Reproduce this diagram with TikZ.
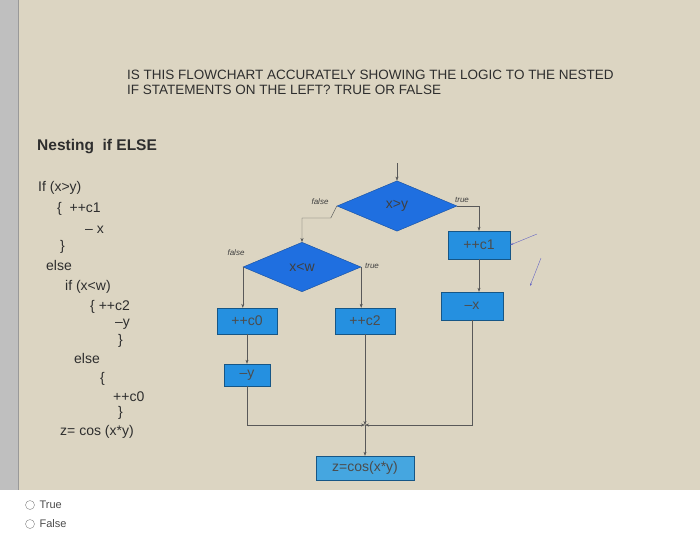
\documentclass[tikz,border=0pt]{standalone}
\usepackage{fontspec}
\setmainfont{Liberation Sans}
\usetikzlibrary{shapes.geometric,arrows.meta}
\definecolor{bgc}{HTML}{DCD5C2}
\definecolor{dblue}{HTML}{1F6FE0}
\definecolor{bblue}{HTML}{2590E0}
\definecolor{lblue}{HTML}{45A6E0}
\definecolor{txt}{HTML}{2E2E2E}
\begin{document}
\begin{tikzpicture}[x=1pt,y=-1pt,
  dia/.style={diamond,aspect=2.4,fill=dblue,draw=dblue!70!black,inner sep=0pt,minimum width=#1,minimum height=0.42*#1,text=black!75,font=\fontsize{14}{16}\selectfont},
  box/.style={rectangle,fill=bblue,draw=bblue!60!black,minimum width=#1,minimum height=26,inner sep=0pt,text=black!70,font=\fontsize{14}{16}\selectfont},
  lab/.style={font=\fontsize{8}{9}\selectfont\itshape,text=black!75},
  code/.style={anchor=west,font=\fontsize{14}{16}\selectfont,text=txt,inner sep=0pt},
  con/.style={draw=black!65,-{Stealth[length=4pt]}},
  ln/.style={draw=black!65}]
\useasboundingbox (0,0) rectangle (700,547);
\fill[white] (0,0) rectangle (700,547);
\fill[bgc] (0,0) rectangle (700,490);
\fill[black!25] (0,0) rectangle (18,490);
\draw[black!40] (18,0) -- (18,490);
% title
\node[code,font=\fontsize{13.5}{15}\selectfont] (t1) at (127,75) {IS THIS FLOWCHART ACCURATELY SHOWING THE LOGIC TO THE NESTED};
\node[code,font=\fontsize{13.5}{15}\selectfont] (t2) at (127,90) {IF STATEMENTS ON THE LEFT? TRUE OR FALSE};
\node[code,font=\fontsize{15.5}{17}\selectfont\bfseries] (hd) at (37,147) {Nesting\ \ if ELSE};
% code
\node[code] (l1) at (38,188) {If (x>y)};
\node[code] (l2) at (57,209) {\{\ \ ++c1};
\node[code] (l3) at (85,230) {-- x};
\node[code] (l4) at (60,247) {\}};
\node[code] (l5) at (46,265) {else};
\node[code] (l6) at (65,287) {if (x<w)};
\node[code] (l7) at (90,307) {\{ ++c2};
\node[code] (l8) at (115,324) {--y};
\node[code] (l9) at (118,341) {\}};
\node[code] (l10) at (74,358) {else};
\node[code] (l11) at (100,379) {\{};
\node[code] (l12) at (113,397) {++c0};
\node[code] (l13) at (118,413) {\}};
\node[code] (l14) at (60,432) {z= cos (x*y)};
% flowchart
\coordinate (top) at (397,163);
\node[dia=120] (xy) at (397,206) {x>y};
\node[dia=118] (xw) at (302,267) {x<w};
\node[box=60] (c0) at (247,321) {++c0};
\node[box=46,minimum height=22] (y) at (247,375) {--y};
\node[box=60] (c2) at (365,321) {++c2};
\node[box=62,minimum height=28] (c1) at (479,245) {++c1};
\node[box=62,minimum height=28] (x) at (472,306) {--x};
\node[box=98,minimum height=24,fill=lblue] (z) at (365,468) {z=cos(x*y)};
\coordinate (m) at (365,425);
\node[lab] (f1) at (320,202) {false};
\node[lab] (t1l) at (462,200) {true};
\node[lab] (f2) at (236,253) {false};
\node[lab] (t2l) at (372,266) {true};
\draw[con] (top) -- (xy.north);
\draw[con] (xy.west) -- ++(-6,12) -| (xw.north);
\draw[con] (xy.east) -| (c1.north);
\draw[con] (xw.west) -- (xw.west |- c0.north);
\draw[con] (xw.east) -- (xw.east |- c2.north);
\draw[con] (c0) -- (y);
\draw[con] (c1) -- (c1 |- x.north);
\draw[con] (y.south) -- (y.south |- m) -- (m);
\draw[con] (c2.south) -- (m);
\draw[con] (x.south) -- (x.south |- m) -- (m);
\draw[con] (m) -- (z.north);
% annotation strokes
\coordinate (a1) at (537,234);
\coordinate (a2) at (541,258);
\draw[draw=black!40!blue!60,-{Stealth[length=3pt]}] (a1) -- (c1.east);
\draw[draw=black!40!blue!60,-{Stealth[length=3pt]}] (a2) -- ++(-11,28);
% radio
\draw[black!50,fill=white] (30,505) circle (4.5) node (r1) [right=6pt,font=\fontsize{11}{12}\selectfont,text=black!70] {True};
\draw[black!50,fill=white] (30,524) circle (4.5) node (r2) [right=6pt,font=\fontsize{11}{12}\selectfont,text=black!70] {False};
\end{tikzpicture}
\end{document}
